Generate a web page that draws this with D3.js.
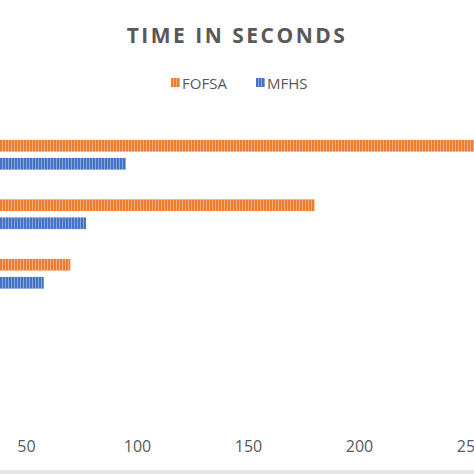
<!DOCTYPE html>
<html>
<head>
<meta charset="utf-8">
<script src="https://cdn.jsdelivr.net/npm/d3@7"></script>
<style>
  body { margin: 0; background: #fff; }
  svg { display: block; font-family: Calibri, Carlito, "Liberation Sans", sans-serif; }
</style>
</head>
<body>
<div class="canvas"></div>
<script>
const categories = ['Case 3', 'Case 2', 'Case 1']
const seriesNames = ['FOFSA', 'MFHS']
const fofsa = [262, 180, 70]
const mfhs = [95, 77, 58]
const tickValues = [50, 100, 150, 200, 250]
const colours = { FOFSA: '#ED7D31', MFHS: '#4472C4' }

const width = 474, height = 474

const svg = d3.select('.canvas').append('svg')
  .attr('width', width)
  .attr('height', height)

// vertical stripe patterns like the Excel fill
const defs = svg.append('defs')
seriesNames.forEach(name => {
  const p = defs.append('pattern')
    .attr('id', 'stripe-' + name)
    .attr('patternUnits', 'userSpaceOnUse')
    .attr('width', 3).attr('height', 3)
  p.append('rect').attr('width', 3).attr('height', 3).attr('fill', colours[name])
  p.append('rect').attr('x', 2.2).attr('width', 0.8).attr('height', 3)
    .attr('fill', '#fff').attr('opacity', 0.45)
})

const x = d3.scaleLinear().domain([0, 250]).range([-85, 470])
const y0 = d3.scaleBand().domain(categories).range([125, 303.5])
  .paddingInner(0.5).paddingOuter(0.25)
const y1 = d3.scaleBand().domain(seriesNames).range([0, y0.bandwidth()])
  .paddingInner(0.35)

const rows = categories.map((c, i) => ({ cat: c, values: [
  { name: 'FOFSA', value: fofsa[i] },
  { name: 'MFHS', value: mfhs[i] }
] }))

const groups = svg.append('g').selectAll('g')
  .data(rows).join('g')
  .attr('transform', d => `translate(0, ${y0(d.cat)})`)

groups.selectAll('rect')
  .data(d => d.values).join('rect')
  .attr('x', x(0))
  .attr('y', d => y1(d.name))
  .attr('height', y1.bandwidth())
  .attr('width', d => x(d.value) - x(0))
  .attr('fill', d => `url(#stripe-${d.name})`)

const axis = svg.append('g')
  .attr('transform', 'translate(0, 441)')
  .call(d3.axisBottom(x).tickValues(tickValues).tickSize(0).tickPadding(0))
axis.select('.domain').remove()
axis.selectAll('text')
  .attr('font-size', 16)
  .attr('fill', '#595959')
  .attr('font-family', '"Open Sans", "Liberation Sans", sans-serif')

svg.append('text')
  .attr('x', 237).attr('y', 43)
  .attr('text-anchor', 'middle')
  .attr('font-size', 21)
  .attr('font-weight', 'bold')
  .attr('letter-spacing', 2.5)
  .attr('fill', '#595959')
  .attr('font-family', '"Open Sans", "Liberation Sans", sans-serif')
  .text('TIME IN SECONDS')

const legendX = [171, 256]
const legend = svg.append('g').selectAll('g')
  .data(seriesNames).join('g')
  .attr('transform', (d, i) => `translate(${legendX[i]}, 83)`)
legend.append('rect')
  .attr('x', 0).attr('y', -5).attr('width', 9).attr('height', 9)
  .attr('fill', d => `url(#stripe-${d})`)
legend.append('text')
  .attr('x', 11).attr('y', 5.5)
  .attr('font-size', 15)
  .attr('fill', '#595959')
  .attr('font-family', '"Open Sans", "Liberation Sans", sans-serif')
  .text(d => d)

svg.append('rect')
  .attr('x', 0).attr('y', 470).attr('width', width).attr('height', 4)
  .attr('fill', '#e6e6e6')
</script>
</body>
</html>
